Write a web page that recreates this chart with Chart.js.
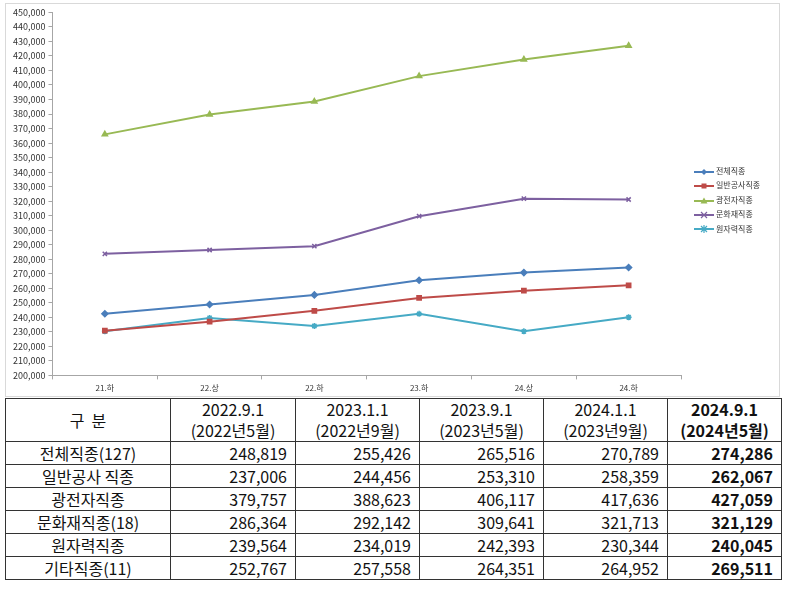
<!DOCTYPE html>
<html>
<head>
<meta charset="utf-8">
<script src="https://cdn.jsdelivr.net/npm/chart.js@4/dist/chart.umd.min.js"></script>
<style>
  body { margin: 0; background: #fff; width: 800px; height: 592px; position: relative; font-family: "Noto Sans CJK KR", sans-serif; }
  #chartBox { position: absolute; left: 5px; top: 3px; width: 775px; height: 394px; border: 1px solid #d9d9d9; box-sizing: border-box; overflow: hidden; }
  #chartBox canvas { display: block; }
  #legend { position: absolute; left: 694px; top: 164px; font-size: 8px; color: #333; }
  #legend div { height: 14.4px; line-height: 14.4px; white-space: nowrap; }
  #legend svg { vertical-align: middle; margin-right: 2px; }
  table { position: absolute; left: 5px; top: 398px; border-collapse: collapse; font-size: 16px; color: #111; }
  td, th { border: 1px solid #333; padding: 0 8px; height: 22px; line-height: 20px; font-weight: normal; }
  th { height: 42px; text-align: center; line-height: 21px; }
  td { text-align: right; }
  td.name { text-align: center; }
  .last { font-weight: bold; }
</style>
</head>
<body>
<div id="chartBox"><canvas id="lineChart"></canvas></div>
<div id="legend"></div>
<table id="dataTable"></table>
<script>
// chart data
const categories = ['21.하', '22.상', '22.하', '23.하', '24.상', '24.하'];
const seriesNames = ['전체직종', '일반공사직종', '광전자직종', '문화재직종', '원자력직종'];
const totalJobs = [242500, 248819, 255426, 265516, 270789, 274286];
const generalWorks = [230800, 237006, 244456, 253310, 258359, 262067];
const optoElectric = [366000, 379757, 388623, 406117, 417636, 427059];
const heritageJobs = [283700, 286364, 289000, 309641, 321713, 321129];
const nuclearJobs = [230400, 239564, 234019, 242393, 230344, 240045];

// table data
const tableDates = ['2022.9.1', '2023.1.1', '2023.9.1', '2024.1.1', '2024.9.1'];
const tableSubs = ['(2022년5월)', '(2022년9월)', '(2023년5월)', '(2023년9월)', '(2024년5월)'];
const rowNames = ['전체직종(127)', '일반공사 직종', '광전자직종', '문화재직종(18)', '원자력직종', '기타직종(11)'];
const rowTotal = ['248,819', '255,426', '265,516', '270,789', '274,286'];
const rowGeneral = ['237,006', '244,456', '253,310', '258,359', '262,067'];
const rowOpto = ['379,757', '388,623', '406,117', '417,636', '427,059'];
const rowHeritage = ['286,364', '292,142', '309,641', '321,713', '321,129'];
const rowNuclear = ['239,564', '234,019', '242,393', '230,344', '240,045'];
const rowOther = ['252,767', '257,558', '264,351', '264,952', '269,511'];

const COLORS = ['#4a7ebb', '#be4b48', '#98b954', '#7d60a0', '#46aac5'];
const MARKERS = ['rectRot', 'rect', 'triangle', 'crossRot', 'star'];
const SERIES = [totalJobs, generalWorks, optoElectric, heritageJobs, nuclearJobs];

// build the table
const colWidths = [165, 125, 124, 124, 124, 114];
let html = '<tr><th style="width:' + (colWidths[0] - 17) + 'px">구&nbsp;&nbsp;분</th>';
tableDates.forEach((d, i) => {
  const cls = i === tableDates.length - 1 ? ' class="last"' : '';
  html += '<th' + cls + ' style="width:' + (colWidths[i + 1] - 17) + 'px">' + d + '<br>' + tableSubs[i] + '</th>';
});
html += '</tr>';
[rowTotal, rowGeneral, rowOpto, rowHeritage, rowNuclear, rowOther].forEach((row, r) => {
  html += '<tr><td class="name">' + rowNames[r] + '</td>';
  row.forEach((v, i) => {
    const cls = i === row.length - 1 ? ' class="last"' : '';
    html += '<td' + cls + '>' + v + '</td>';
  });
  html += '</tr>';
});
document.getElementById('dataTable').innerHTML = html;

// legend: short line with the series marker in the middle
function markerSvg(style, c) {
  switch (style) {
    case 'rectRot': return '<polygon points="10,2 13,5 10,8 7,5" fill="' + c + '"/>';
    case 'rect': return '<rect x="7.5" y="2.5" width="5" height="5" fill="' + c + '"/>';
    case 'triangle': return '<polygon points="10,1.5 13.5,7.5 6.5,7.5" fill="' + c + '"/>';
    case 'crossRot': return '<path d="M7,2 L13,8 M13,2 L7,8" stroke="' + c + '" stroke-width="1.2"/>';
    default: return '<path d="M7,2 L13,8 M13,2 L7,8 M10,1 L10,9" stroke="' + c + '" stroke-width="1.2"/>';
  }
}
let legendHtml = '';
seriesNames.forEach((name, i) => {
  legendHtml += '<div><svg width="20" height="10"><line x1="0" y1="5" x2="20" y2="5" stroke="' + COLORS[i] +
    '" stroke-width="2"/>' + markerSvg(MARKERS[i], COLORS[i]) + '</svg>' + name + '</div>';
});
document.getElementById('legend').innerHTML = legendHtml;

const canvas = document.getElementById('lineChart');
canvas.width = 773;
canvas.height = 393;

new Chart(canvas.getContext('2d'), {
  type: 'line',
  data: {
    labels: categories,
    datasets: SERIES.map((data, i) => ({
      label: seriesNames[i],
      data: data,
      borderColor: COLORS[i],
      backgroundColor: COLORS[i],
      borderWidth: 2,
      pointStyle: MARKERS[i],
      pointRadius: 3,
      pointBorderWidth: 1.5,
      tension: 0
    }))
  },
  options: {
    responsive: false,
    animation: false,
    layout: { padding: { top: 0, left: 4, right: 98, bottom: 0 } },
    plugins: {
      legend: { display: false },
      tooltip: { enabled: false }
    },
    scales: {
      x: {
        offset: true,
        border: { color: '#a6a6a6' },
        grid: { drawOnChartArea: false, drawTicks: true, tickLength: 4, color: '#a6a6a6', offset: true },
        ticks: { color: '#333', font: { family: 'Noto Sans CJK KR', size: 8 }, padding: 4 }
      },
      y: {
        min: 200000,
        max: 450000,
        border: { color: '#a6a6a6' },
        grid: { drawOnChartArea: false, drawTicks: true, tickLength: 4, color: '#a6a6a6' },
        ticks: {
          stepSize: 10000,
          autoSkip: false,
          color: '#333',
          padding: 3,
          font: { family: 'Noto Sans CJK KR', size: 9 },
          callback: v => v.toLocaleString('en-US')
        }
      }
    }
  }
});
</script>
</body>
</html>
